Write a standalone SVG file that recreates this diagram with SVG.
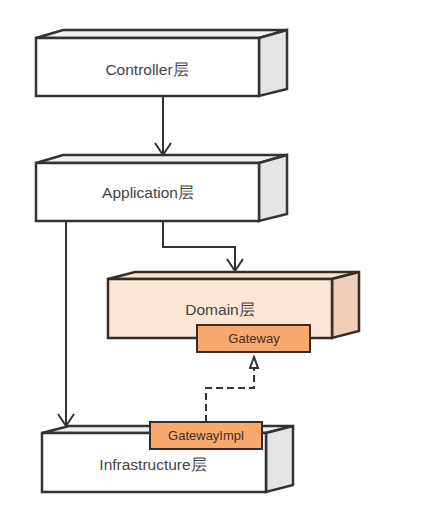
<svg xmlns="http://www.w3.org/2000/svg" width="441" height="527" viewBox="0 0 441 527">
<defs>
<style>
.front{fill:#ffffff;stroke:#333333;stroke-width:2.5;stroke-linejoin:miter}
.top{fill:#f0f0f0;stroke:#333333;stroke-width:2.5}
.side{fill:#e4e4e4;stroke:#333333;stroke-width:2.5}
.dfront{fill:#fde6d3;stroke:#3a2b24;stroke-width:2.5}
.dtop{fill:#fbe2d0;stroke:#3a2b24;stroke-width:2.5}
.dside{fill:#efcdb8;stroke:#3a2b24;stroke-width:2.5}
.iface{fill:#f7a86f;stroke:#3a2b24;stroke-width:2}
.lbl{font-family:"Liberation Sans",Arial,sans-serif;font-size:15.5px;fill:#444444;text-anchor:middle}
.ilbl{font-family:"Liberation Sans",Arial,sans-serif;font-size:13px;fill:#4a2e1e;text-anchor:middle}
.conn{fill:none;stroke:#333333;stroke-width:2}
</style>
<marker id="open" markerWidth="16" markerHeight="20" refX="13" refY="9" orient="auto" markerUnits="userSpaceOnUse">
<path d="M1,1 L13,9 L1,17" fill="none" stroke="#333333" stroke-width="2"/>
</marker>
<marker id="tri" markerWidth="14" markerHeight="12" refX="12" refY="5" orient="auto" markerUnits="userSpaceOnUse">
<path d="M1,1 L12,5 L1,9 Z" fill="#ffffff" stroke="#333333" stroke-width="2"/>
</marker>
</defs>
<rect width="441" height="527" fill="#ffffff"/>
<g id="controller">
<polygon class="top" points="36,38 63,30 287,30 259,38"/>
<polygon class="side" points="259,38 287,30 287,89 259,96"/>
<rect class="front" x="36" y="38" width="223" height="58"/>
<text class="lbl" x="147" y="75">Controller层</text>
</g>
<g id="application">
<polygon class="top" points="36,163 63,155 287,155 259,163"/>
<polygon class="side" points="259,163 287,155 287,214 259,221"/>
<rect class="front" x="36" y="163" width="223" height="58"/>
<text class="lbl" x="148" y="198">Application层</text>
</g>
<g id="domain">
<polygon class="dtop" points="108,279 135,272 359,272 332,279"/>
<polygon class="dside" points="332,279 359,272 359,331 332,338"/>
<rect class="dfront" x="108" y="279" width="224" height="59"/>
<text class="lbl" x="220" y="315">Domain层</text>
</g>
<g id="gateway">
<rect class="iface" x="197" y="325" width="113" height="27"/>
<text class="ilbl" x="254" y="343">Gateway</text>
</g>
<g id="infrastructure">
<polygon class="top" points="42,433 69,426 293,426 266,433"/>
<polygon class="side" points="266,433 293,426 293,485 266,492"/>
<rect class="front" x="42" y="433" width="224" height="59"/>
<text class="lbl" x="153" y="470">Infrastructure层</text>
</g>
<g id="gatewayimpl">
<rect class="iface" x="150" y="422" width="112" height="27"/>
<text class="ilbl" x="206" y="440">GatewayImpl</text>
</g>
<g id="connectors">
<path class="conn" d="M163,96 L163,155" marker-end="url(#open)"/>
<path class="conn" d="M163,221 L163,247 L235,247 L235,271" marker-end="url(#open)"/>
<path class="conn" d="M66,221 L66,426" marker-end="url(#open)"/>
<path class="conn" d="M206,422 L206,388 L254,388 L254,357" stroke-dasharray="7,4" marker-end="url(#tri)"/>
</g>
</svg>
